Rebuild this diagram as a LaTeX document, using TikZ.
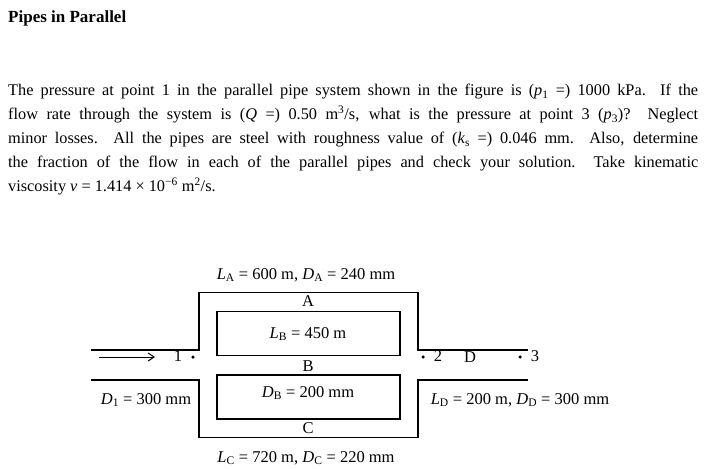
\documentclass[tikz,border=0pt]{standalone}
\usepackage{fontspec}
\usetikzlibrary{arrows.meta}
\setmainfont{Liberation Serif}
\newcommand{\sub}[1]{\textsubscript{#1}}
\newcommand{\sps}[1]{\textsuperscript{#1}}
\begin{document}
\begin{tikzpicture}[x=1pt,y=-1pt,
  pipe/.style={line width=1.6pt},
  lab/.style={inner sep=0pt,font=\fontsize{16.5}{18}\selectfont},
  dot/.style={circle,fill,inner sep=0pt,minimum size=3.5pt}]
\useasboundingbox (0,0) rectangle (706,468);
\node[anchor=west,inner sep=0pt,font=\bfseries\fontsize{17}{20}\selectfont] (title) at (8,18) {Pipes in Parallel};
\node[anchor=north west,inner sep=0pt,text width=690pt,align=justify,font=\fontsize{16.3}{24}\selectfont] (body) at (8,84)
{The pressure at point 1 in the parallel pipe system shown in the figure is (\textit{p}\sub{1} =) 1000 kPa.\ \ If the\linebreak
flow rate through the system is (\textit{Q} =) 0.50 m\sps{3}/s, what is the pressure at point 3 (\textit{p}\sub{3})?\ \ Neglect\linebreak
minor losses.\ \ All the pipes are steel with roughness value of (\textit{k}\sub{s} =) 0.046 mm.\ \ Also, determine\linebreak
the fraction of the flow in each of the parallel pipes and check your solution.\ \ Take kinematic\linebreak
viscosity \textit{ν} = 1.414 × 10\sps{−6} m\sps{2}/s.};
% pipes
\coordinate (pl1) at (91,350); \coordinate (pl2) at (91,380);
\coordinate (pr1) at (528,350); \coordinate (pr2) at (528,380);
\draw[pipe] (pl1) -- (199,350) |- (418,292.5) |- (pr1);
\draw[pipe] (pl2) -- (199,380) |- (418,437.5) |- (pr2);
\draw[pipe] (217,311.5) rectangle (400,355.5);
\draw[pipe] (217,375) rectangle (400,419);
% arrow
\coordinate (a1) at (99,357); \coordinate (a2) at (155,357);
\draw[line width=1pt,-{Straight Barb[length=6pt,width=8pt]}] (a1) -- (a2);
\node[lab] (n1) at (178,356) {1};
\node[dot] (d1) at (193,357) {};
\node[dot] (d2) at (423,357) {};
\node[lab] (n2) at (438,356) {2};
\node[lab] (nD) at (470,357) {D};
\node[dot] (d3) at (520,357) {};
\node[lab] (n3) at (535,356) {3};
\node[lab] (LA) at (306,275) {\textit{L}\sub{A} = 600 m, \textit{D}\sub{A} = 240 mm};
\node[lab] (A) at (308,301) {A};
\node[lab] (LB) at (308,334) {\textit{L}\sub{B} = 450 m};
\node[lab] (B) at (308,366) {B};
\node[lab] (DB) at (308,393) {\textit{D}\sub{B} = 200 mm};
\node[lab] (C) at (308,428) {C};
\node[lab] (LC) at (306,458) {\textit{L}\sub{C} = 720 m, \textit{D}\sub{C} = 220 mm};
\node[lab] (D1) at (146,400) {\textit{D}\sub{1} = 300 mm};
\node[lab] (LD) at (520,400) {\textit{L}\sub{D} = 200 m, \textit{D}\sub{D} = 300 mm};
\end{tikzpicture}
\end{document}
